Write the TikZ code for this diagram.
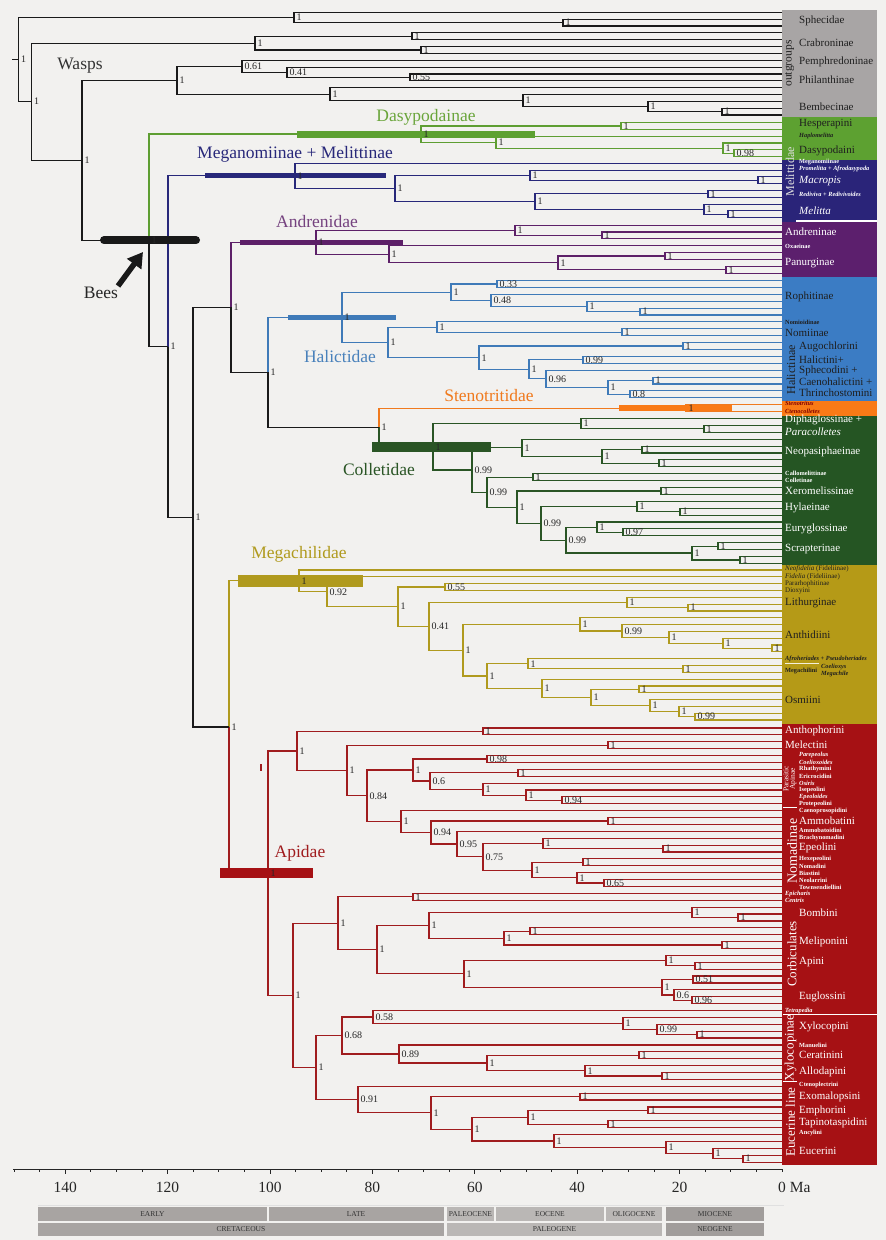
\documentclass[tikz,border=0pt]{standalone}
\usepackage{fontspec}
\setmainfont{Liberation Serif}
\usetikzlibrary{calc,arrows.meta}
\pgfdeclarelayer{fg}
\pgfsetlayers{main,fg}
\definecolor{bgc}{HTML}{F2F1EF}
\definecolor{cOut}{HTML}{1A1A1A}
\definecolor{cDas}{HTML}{5E9E32}
\definecolor{tDas}{HTML}{6AA53B}
\definecolor{cMel}{HTML}{28287A}
\definecolor{cAnd}{HTML}{5D2068}
\definecolor{cHal}{HTML}{3F7AB8}
\definecolor{cSte}{HTML}{F07A1E}
\definecolor{cCol}{HTML}{2A5525}
\definecolor{cMeg}{HTML}{B09A1E}
\definecolor{cApi}{HTML}{A01C1E}
\definecolor{bOut}{HTML}{A8A5A5}
\definecolor{bDas}{HTML}{5DA131}
\definecolor{bMel}{HTML}{2A2479}
\definecolor{bAnd}{HTML}{5C1F6D}
\definecolor{bHal}{HTML}{3B7CC4}
\definecolor{bSte}{HTML}{F97A16}
\definecolor{bCol}{HTML}{255523}
\definecolor{bMeg}{HTML}{B59A17}
\definecolor{bApi}{HTML}{A61114}
\definecolor{pCre}{HTML}{A8A4A2}
\definecolor{pPal}{HTML}{BAB7B5}
\definecolor{pNeo}{HTML}{A19D9B}
\tikzset{
 sup/.style={anchor=west, inner sep=0.8pt, xshift=1.6pt, text=black!85, font=\fontsize{10}{10}\selectfont},
 tl/.style={anchor=west, inner sep=0pt, font=\fontsize{11}{11}\selectfont},
 ts/.style={anchor=west, inner sep=0pt, font=\fontsize{6.3}{6.3}\selectfont\bfseries},
 tm/.style={anchor=west, inner sep=0pt, font=\fontsize{7}{7}\selectfont},
 big/.style={font=\fontsize{17.5}{17.5}\selectfont, inner sep=0pt},
 rot/.style={rotate=90, inner sep=0pt},
 tree/.style={line width=1.15pt},
 dk/.style={text=black!88},
 wt/.style={text=white},
 per/.style={font=\fontsize{7.5}{7.5}\selectfont, text=black!80, inner sep=0pt},
}
\newcommand\mk[4]{\path let \p1=($(#3)!0.5!(#4)$) in coordinate (#1) at (#2pt,\y1);}
\newcommand\lab[2]{\begin{pgfonlayer}{fg}\node[sup] at (#1) {#2};\end{pgfonlayer}}
\newcommand\nd[5]{\mk{#1}{#2}{#3}{#4}\draw[tree] (#3) -| (#1) |- (#4);\lab{#1}{#5}}
\newcommand\cbar[5]{\draw[#2, line width=#3] let \p1=(#1) in (#4pt,\y1) -- (#5pt,\y1);}
\begin{document}
\begin{tikzpicture}[x=1pt,y=-1pt]
\useasboundingbox (0,0) rectangle (886,1240);
\fill[bgc] (0,0) rectangle (886,1240);
% ---------- label column blocks
\fill[bOut] (782,10) rectangle (877,117);
\fill[bDas] (782,117) rectangle (877,160);
\fill[bMel] (782,160) rectangle (877,221.5);
\fill[bAnd] (782,221.5) rectangle (877,277);
\fill[bHal] (782,277) rectangle (877,400.5);
\fill[bSte] (782,400.5) rectangle (877,416);
\fill[bCol] (782,416) rectangle (877,565);
\fill[bMeg] (782,565) rectangle (877,723.5);
\fill[bApi] (782,723.5) rectangle (877,1165);
\draw[white,line width=1.2pt] (796,221) -- (877,221);
\draw[white,line width=1pt] (783,1014) -- (877,1014);
\draw[white,line width=1pt] (783,807) -- (797,807);
\draw[white,line width=1pt] (783,1081) -- (797,1081);
\draw[white!85!bMeg,line width=1pt] (785,663) -- (819,663);
% ---------- tips
\foreach \k in {0,...,15} {\coordinate (o\k) at (782,{12.3+6.85*\k});}
\foreach \k in {0,...,5} {\coordinate (d\k) at (782,{122.5+6.85*\k});}
\foreach \k in {0,...,8} {\coordinate (me\k) at (782,{163.3+6.8*\k});}
\foreach \k in {0,...,7} {\coordinate (an\k) at (782,{225.2+6.85*\k});}
\foreach \k in {0,...,17} {\coordinate (h\k) at (782,{280.5+6.9*\k});}
\coordinate (s0) at (782,404.7);
\coordinate (s1) at (782,411.6);
\foreach \k in {0,...,21} {\coordinate (c\k) at (782,{418.5+6.9*\k});}
\foreach \k in {0,...,22} {\coordinate (m\k) at (782,{570+6.82*\k});}
\foreach \k in {0,...,63} {\coordinate (a\k) at (782,{728+6.89*\k});}
% ---------- Dasypodainae
\begin{scope}[color=cDas]
\nd{Z}{621}{d0}{d1}{1}
\nd{Y}{734}{d4}{d5}{0.98}
\nd{X}{723}{d3}{Y}{1}
\nd{W}{496}{d2}{X}{1}
\nd{V}{421}{Z}{W}{1}
\end{scope}
% ---------- Melittidae
\begin{scope}[color=cMel]
\nd{AE}{758}{me2}{me3}{1}
\nd{AC}{530}{me1}{AE}{1}
\nd{AF}{708}{me4}{me5}{1}
\nd{AH}{728}{me7}{me8}{1}
\nd{AG}{704}{me6}{AH}{1}
\nd{AD}{535}{AF}{AG}{1}
\nd{AB}{395}{AC}{AD}{1}
\nd{AA}{295}{me0}{AB}{1}
\end{scope}
% ---------- Andrenidae
\begin{scope}[color=cAnd]
\nd{AL}{602}{an1}{an2}{1}
\nd{AJ}{515}{an0}{AL}{1}
\nd{AN}{665}{an4}{an5}{1}
\nd{AO}{726}{an6}{an7}{1}
\nd{AM}{558}{AN}{AO}{1}
\nd{AK}{389}{an3}{AM}{1}
\nd{AI}{316}{AJ}{AK}{1}
\end{scope}
% ---------- Halictidae
\begin{scope}[color=cHal]
\nd{AS}{497}{h0}{h1}{0.33}
\nd{AV}{640}{h4}{h5}{1}
\nd{AU}{587}{h3}{AV}{1}
\nd{AT}{491}{h2}{AU}{0.48}
\nd{AQ}{451}{AS}{AT}{1}
\nd{AY}{622}{h7}{h8}{1}
\nd{AW}{437}{h6}{AY}{1}
\nd{AZ}{683}{h9}{h10}{1}
\nd{BB}{583}{h11}{h12}{0.99}
\nd{BE}{653}{h14}{h15}{1}
\nd{BF}{630}{h16}{h17}{0.8}
\nd{BD}{608}{BE}{BF}{1}
\nd{BC}{546}{h13}{BD}{0.96}
\nd{BA}{529}{BB}{BC}{1}
\nd{AX}{479}{AZ}{BA}{1}
\nd{AR}{388}{AW}{AX}{1}
\nd{AP}{342}{AQ}{AR}{1}
\end{scope}
% ---------- Stenotritidae
\begin{scope}[color=cSte]
\nd{ST}{686}{s0}{s1}{1}
\end{scope}
% ---------- Colletidae
\begin{scope}[color=cCol]
\nd{BJ}{704}{c1}{c2}{1}
\nd{BH}{581}{c0}{BJ}{1}
\nd{BL}{642}{c4}{c5}{1}
\nd{BM}{659}{c6}{c7}{1}
\nd{BN}{602}{BL}{BM}{1}
\nd{BK}{522}{c3}{BN}{1}
\nd{BP}{533}{c8}{c9}{1}
\nd{BR}{661}{c10}{c11}{1}
\nd{BV}{680}{c13}{c14}{1}
\nd{BT}{637}{c12}{BV}{1}
\nd{BY}{623}{c16}{c17}{0.97}
\nd{BW}{597}{c15}{BY}{1}
\nd{BZ}{718}{c18}{c19}{1}
\nd{CA}{740}{c20}{c21}{1}
\nd{BX}{692}{BZ}{CA}{1}
\nd{BU}{566}{BW}{BX}{0.99}
\nd{BS}{541}{BT}{BU}{0.99}
\nd{BQ}{517}{BR}{BS}{1}
\nd{BO}{487}{BP}{BQ}{0.99}
\nd{BI}{472}{BK}{BO}{0.99}
\nd{BG}{433}{BH}{BI}{1}
\end{scope}
% ---------- Megachilidae
\begin{scope}[color=cMeg]
\nd{CE}{445}{m2}{m3}{0.55}
\nd{CH}{688}{m5}{m6}{1}
\nd{CG}{627}{m4}{CH}{1}
\nd{CO}{772}{m11}{m12}{1}
\nd{CN}{723}{m10}{CO}{1}
\nd{CM}{669}{m9}{CN}{1}
\nd{CL}{622}{m8}{CM}{0.99}
\nd{CJ}{580}{m7}{CL}{1}
\nd{CR}{683}{m14}{m15}{1}
\nd{CP}{528}{m13}{CR}{1}
\nd{CS}{639}{m17}{m18}{1}
\nd{CX}{695}{m21}{m22}{0.99}
\nd{CW}{679}{m20}{CX}{1}
\nd{CV}{650}{m19}{CW}{1}
\nd{CU}{591}{CS}{CV}{1}
\nd{CQ}{542}{m16}{CU}{1}
\nd{CK}{487}{CP}{CQ}{1}
\nd{CI}{463}{CJ}{CK}{1}
\nd{CF}{429}{CG}{CI}{0.41}
\nd{CD}{398}{CE}{CF}{1}
\nd{CC}{327}{m1}{CD}{0.92}
\nd{CB}{299}{m0}{CC}{1}
\end{scope}
% ---------- Apidae
\begin{scope}[color=cApi]
\nd{DB}{483}{a0}{a1}{1}
\nd{DD}{608}{a2}{a3}{1}
\nd{DH}{487}{a4}{a5}{0.98}
\nd{DJ}{518}{a6}{a7}{1}
\nd{DM}{562}{a10}{a11}{0.94}
\nd{DL}{526}{a9}{DM}{1}
\nd{DK}{483}{a8}{DL}{1}
\nd{DI}{430}{DJ}{DK}{0.6}
\nd{DF}{413}{DH}{DI}{1}
\nd{DO}{608}{a13}{a14}{1}
\nd{DT}{663}{a17}{a18}{1}
\nd{DR}{543}{a16}{DT}{1}
\nd{DU}{583}{a19}{a20}{1}
\nd{DW}{604}{a22}{a23}{0.65}
\nd{DV}{577}{a21}{DW}{1}
\nd{DS}{532}{DU}{DV}{1}
\nd{DQ}{483}{DR}{DS}{0.75}
\nd{DP}{457}{a15}{DQ}{0.95}
\nd{DN}{431}{DO}{DP}{0.94}
\nd{DG}{401}{a12}{DN}{1}
\nd{DE}{367}{DF}{DG}{0.84}
\nd{DC}{347}{DD}{DE}{1}
\nd{CZ}{297}{DB}{DC}{1}
\nd{DZ}{413}{a24}{a25}{1}
\nd{EF}{738}{a27}{a28}{1}
\nd{ED}{692}{a26}{EF}{1}
\nd{EG}{530}{a29}{a30}{1}
\nd{EH}{722}{a31}{a32}{1}
\nd{EE}{504}{EG}{EH}{1}
\nd{EB}{429}{ED}{EE}{1}
\nd{EK}{695}{a34}{a35}{1}
\nd{EI}{666}{a33}{EK}{1}
\nd{EL}{693}{a36}{a37}{0.51}
\nd{EN}{692}{a39}{a40}{0.96}
\nd{EM}{674}{a38}{EN}{0.6}
\nd{EJ}{662}{EL}{EM}{1}
\nd{EC}{464}{EI}{EJ}{1}
\nd{EA}{377}{EB}{EC}{1}
\nd{DX}{338}{DZ}{EA}{1}
\nd{ER}{697}{a44}{a45}{1}
\nd{EQ}{657}{a43}{ER}{0.99}
\nd{EP}{623}{a42}{EQ}{1}
\nd{EO}{373}{a41}{EP}{0.58}
\nd{EZ}{639}{a47}{a48}{1}
\nd{EY}{662}{a50}{a51}{1}
\nd{EX}{585}{a49}{EY}{1}
\nd{EW}{487}{EZ}{EX}{1}
\nd{EV}{399}{a46}{EW}{0.89}
\nd{ET}{342}{EO}{EV}{0.68}
\nd{FB}{580}{a53}{a54}{1}
\nd{FF}{648}{a55}{a56}{1}
\nd{FG}{608}{a57}{a58}{1}
\nd{FD}{528}{FF}{FG}{1}
\nd{FJ}{743}{a62}{a63}{1}
\nd{FI}{713}{a61}{FJ}{1}
\nd{FH}{666}{a60}{FI}{1}
\nd{FE}{554}{a59}{FH}{1}
\nd{FC}{472}{FD}{FE}{1}
\nd{FA}{431}{FB}{FC}{1}
\nd{EU}{358}{a52}{FA}{0.91}
\nd{ES}{316}{ET}{EU}{1}
\nd{DA}{293}{DX}{ES}{1}
\nd{CY}{268}{CZ}{DA}{1}
\end{scope}
\fill[cApi] (260,764) rectangle (262.2,771);
% ---------- backbone
\mk{U}{379}{ST}{BG}
\draw[tree,cSte] (ST) -| (U); \draw[tree,cCol] (U) |- (BG); \lab{U}{1}
\mk{S}{268}{AP}{U}
\draw[tree,cHal] (AP) -| (S); \draw[tree,cOut] (S) |- (U); \lab{S}{1}
\mk{R}{231}{AI}{S}
\draw[tree,cAnd] (AI) -| (R); \draw[tree,cOut] (R) |- (S); \lab{R}{1}
\mk{T}{229}{CB}{CY}
\draw[tree,cMeg] (CB) -| (T); \draw[tree,cApi] (T) |- (CY); \lab{T}{1}
\mk{Q}{193}{R}{T}
\draw[tree,cOut] (R) -| (Q) |- (T); \lab{Q}{1}
\mk{P}{168}{AA}{Q}
\draw[tree,cMel] (AA) -| (P); \draw[tree,cOut] (P) |- (Q); \lab{P}{1}
\mk{Bees}{149}{V}{P}
\draw[cDas,line width=1.8pt] (V) -| (Bees); \draw[tree,cOut] (Bees) |- (P); \lab{Bees}{1}
% ---------- outgroups
\begin{scope}[color=cOut]
\nd{B}{563}{o1}{o2}{1}
\nd{A}{294}{o0}{B}{1}
\nd{E}{412}{o3}{o4}{1}
\nd{F}{421}{o5}{o6}{1}
\nd{D}{255}{E}{F}{1}
\nd{K}{410}{o9}{o10}{0.55}
\nd{J}{287}{o8}{K}{0.41}
\nd{I}{242}{o7}{J}{0.61}
\nd{O}{722}{o14}{o15}{1}
\nd{N}{648}{o13}{O}{1}
\nd{M}{523}{o12}{N}{1}
\nd{L}{330}{o11}{M}{1}
\nd{H}{177}{I}{L}{1}
\nd{G}{82}{H}{Bees}{1}
\nd{C}{31.5}{D}{G}{1}
\nd{root}{18.5}{A}{C}{1}
\draw[tree] (root) -- ([xshift=-6.5pt]root);
\end{scope}
% ---------- divergence bars
\cbar{Bees}{black!90,line cap=round}{8pt}{104}{196}
\cbar{V}{bDas}{7pt}{297}{535}
\cbar{AA}{cMel}{5pt}{205}{386}
\cbar{AI}{cAnd}{5pt}{240}{403}
\cbar{AP}{cHal}{5pt}{288}{396}
\cbar{ST}{bSte}{6pt}{619}{732}
\cbar{BG}{cCol}{10pt}{372}{491}
\cbar{CB}{cMeg}{12pt}{238}{363}
\cbar{CY}{bApi}{10pt}{220}{313}
% ---------- Bees arrow and clade names
\coordinate (arT) at (118,286);
\coordinate (arH) at (143,252);
\draw[black!90,line width=5.5pt,-{Triangle[length=15pt,width=17pt]}] (arT) -- (arH);
\node[big,text=black!85] (nBees) at (101,293) {Bees};
\node[big,text=black!80] (nWasps) at (80,66) {Wasps};
\node[big,text=tDas] (nDas) at (426,117) {Dasypodainae};
\node[big,text=cMel] (nMel) at (295,154) {Meganomiinae + Melittinae};
\node[big,text=cAnd!85!white] (nAnd) at (317,222) {Andrenidae};
\node[big,text=cHal!95!white] (nHal) at (340,357) {Halictidae};
\node[big,text=cSte] (nSte) at (489,396) {Stenotritidae};
\node[big,text=cCol] (nCol) at (379,470) {Colletidae};
\node[big,text=cMeg] (nMeg) at (299,554) {Megachilidae};
\node[big,text=cApi] (nApi) at (300,853) {Apidae};
% ---------- column labels
\node[tl,dk] at (799,21) {Sphecidae};
\node[tl,dk] at (799,43) {Crabroninae};
\node[tl,dk] at (799,62) {Pemphredoninae};
\node[tl,dk] at (799,80) {Philanthinae};
\node[tl,dk] at (799,107) {Bembecinae};
\node[rot,dk,font=\fontsize{11.5}{11.5}\selectfont] at (789.5,63.5) {outgroups};
\node[tl,dk] at (799,124.5) {Hesperapini};
\node[ts,dk] at (799,136) {\itshape Haplomelitta};
\node[tl,dk] at (799,151) {Dasypodaini};
\node[rot,text=white!88!black,font=\fontsize{12}{12}\selectfont] at (790,172) {Melittidae};
\node[ts,wt] at (799,162.5) {Meganomiinae};
\node[ts,wt] at (799,169) {\itshape Promelitta + Afrodasypoda};
\node[tl,wt] at (799,181) {\itshape Macropis};
\node[ts,wt] at (799,194) {\itshape Rediviva + Redivivoides};
\node[tl,wt] at (799,211) {\itshape Melitta};
\node[tl,wt] at (785,232) {Andreninae};
\node[ts,wt] at (785,246) {Oxaeinae};
\node[tl,wt] at (785,263) {Panurginae};
\node[tl,dk] at (785,297) {Rophitinae};
\node[ts,dk] at (785,322) {Nomioidinae};
\node[tl,dk] at (785,333) {Nomiinae};
\node[rot,dk,font=\fontsize{12}{12}\selectfont] at (791,370) {Halictinae};
\node[tl,dk] at (799,346.5) {Augochlorini};
\node[tl,dk] at (799,360) {Halictini+};
\node[tl,dk] at (799,371) {Sphecodini +};
\node[tl,dk] at (799,382) {Caenohalictini +};
\node[tl,dk] at (799,393) {Thrinchostomini};
\node[ts,text=red!50!black] at (785,403.5) {\itshape Stenotritus};
\node[ts,text=red!50!black] at (785,411.5) {\itshape Ctenocolletes};
\node[tl,wt] at (785,420) {Diphaglossinae +};
\node[tl,wt] at (785,432) {\itshape Paracolletes};
\node[tl,wt] at (785,452) {Neopasiphaeinae};
\node[ts,wt] at (785,473) {Callomelittinae};
\node[ts,wt] at (785,480) {Colletinae};
\node[tl,wt] at (785,491) {Xeromelissinae};
\node[tl,wt] at (785,508) {Hylaeinae};
\node[tl,wt] at (785,529) {Euryglossinae};
\node[tl,wt] at (785,549) {Scrapterinae};
\node[tm,dk] at (785,569) {\textit{Neofidelia} (Fideliinae)};
\node[tm,dk] at (785,576.5) {\textit{Fidelia} (Fideliinae)};
\node[tm,dk] at (785,584) {Pararhophitinae};
\node[tm,dk] at (785,591) {Dioxyini};
\node[tl,dk] at (785,603) {Lithurginae};
\node[tl,dk] at (785,635) {Anthidiini};
\node[ts,dk] at (785,659) {\itshape Afroheriades + Pseudoheriades};
\node[ts,dk] at (785,671) {Megachilini};
\node[ts,dk] at (821,666.5) {\itshape Coelioxys};
\node[ts,dk] at (821,673.5) {\itshape Megachile};
\node[tl,dk] at (785,700) {Osmiini};
\node[tl,wt] at (785,731) {Anthophorini};
\node[tl,wt] at (785,745) {Melectini};
\node[ts,wt] at (799,755) {\itshape Parepeolus};
\node[ts,wt] at (799,762) {\itshape Coelioxoides};
\node[ts,wt] at (799,769) {Rhathymini};
\node[ts,wt] at (799,776.5) {Ericrocidini};
\node[ts,wt] at (799,783) {\itshape Osiris};
\node[ts,wt] at (799,790) {Isepeolini};
\node[ts,wt] at (799,797) {\itshape Epeoloides};
\node[ts,wt] at (799,803.5) {Protepeolini};
\node[ts,wt] at (799,811) {Caenoprosopidini};
\node[rot,wt,align=center,font=\fontsize{7.5}{6.5}\selectfont] at (790,779) {Parasitic\\Apinae};
\node[tl,wt] at (799,821) {Ammobatini};
\node[ts,wt] at (799,830.5) {Ammobatoidini};
\node[ts,wt] at (799,837.5) {Brachynomadini};
\node[tl,wt] at (799,848) {Epeolini};
\node[ts,wt] at (799,859) {Hexepeolini};
\node[ts,wt] at (799,866) {Nomadini};
\node[ts,wt] at (799,873) {Biastini};
\node[ts,wt] at (799,880) {Neolarrini};
\node[ts,wt] at (799,887) {Townsendiellini};
\node[rot,wt,font=\fontsize{14}{14}\selectfont] at (792,851) {Nomadinae};
\node[ts,wt] at (785,894) {\itshape Epicharis};
\node[ts,wt] at (785,900.5) {\itshape Centris};
\node[tl,wt] at (799,913) {Bombini};
\node[tl,wt] at (799,942) {Meliponini};
\node[tl,wt] at (799,962) {Apini};
\node[tl,wt] at (799,997) {Euglossini};
\node[rot,wt,font=\fontsize{13}{13}\selectfont] at (792,954) {Corbiculates};
\node[ts,wt] at (785,1011) {\itshape Tetrapedia};
\node[tl,wt] at (799,1027) {Xylocopini};
\node[ts,wt] at (799,1045) {Manuelini};
\node[tl,wt] at (799,1055) {Ceratinini};
\node[tl,wt] at (799,1072) {Allodapini};
\node[rot,wt,font=\fontsize{13}{13}\selectfont] at (790.5,1048) {Xylocopinae};
\node[ts,wt] at (799,1085) {Ctenoplectrini};
\node[tl,wt] at (799,1097) {Exomalopsini};
\node[tl,wt] at (799,1111) {Emphorini};
\node[tl,wt] at (799,1123) {Tapinotaspidini};
\node[ts,wt] at (799,1133) {Ancylini};
\node[tl,wt] at (799,1151) {Eucerini};
\node[rot,wt,font=\fontsize{13}{13}\selectfont] at (790.5,1122) {Eucerine line};
% ---------- time axis
\draw[line width=0.8pt,black!85] (13,1169) -- (782,1169);
\foreach \m in {0,5,...,150} {\draw[black!85,line width=0.7pt] ({782-5.12*\m},1169) -- ++(0,3);}
\foreach \m in {140,120,100,80,60,40,20} {
 \draw[black!85,line width=0.7pt] ({782-5.12*\m},1169) -- ++(0,5);
 \node[font=\fontsize{15.5}{15.5}\selectfont,text=black!85,inner sep=0pt] at ({782-5.12*\m},1187) {\m};}
\node[font=\fontsize{15.5}{15.5}\selectfont,text=black!85,inner sep=0pt,anchor=west] (nMa) at (778,1187) {0 Ma};
% ---------- periods
\draw[black!12,line width=0.6pt] (38,1205.5) -- (784,1205.5);
\fill[pCre] (38,1207) rectangle (267,1221);
\fill[pCre] (268.5,1207) rectangle (444,1221);
\fill[pPal] (447,1207) rectangle (494,1221);
\fill[pPal] (495.5,1207) rectangle (604,1221);
\fill[pPal] (605.5,1207) rectangle (662,1221);
\fill[pNeo] (666,1207) rectangle (764,1221);
\fill[pCre] (38,1222.5) rectangle (444,1236);
\fill[pPal] (447,1222.5) rectangle (662,1236);
\fill[pNeo] (666,1222.5) rectangle (764,1236);
\node[per] at (152.5,1214.5) {EARLY};
\node[per] at (356,1214.5) {LATE};
\node[per] at (470.5,1214.5) {PALEOCENE};
\node[per] at (550,1214.5) {EOCENE};
\node[per] at (634,1214.5) {OLIGOCENE};
\node[per] at (715,1214.5) {MIOCENE};
\node[per] at (241,1229.5) {CRETACEOUS};
\node[per] at (554.5,1229.5) {PALEOGENE};
\node[per] at (715,1229.5) {NEOGENE};
\end{tikzpicture}
\end{document}
